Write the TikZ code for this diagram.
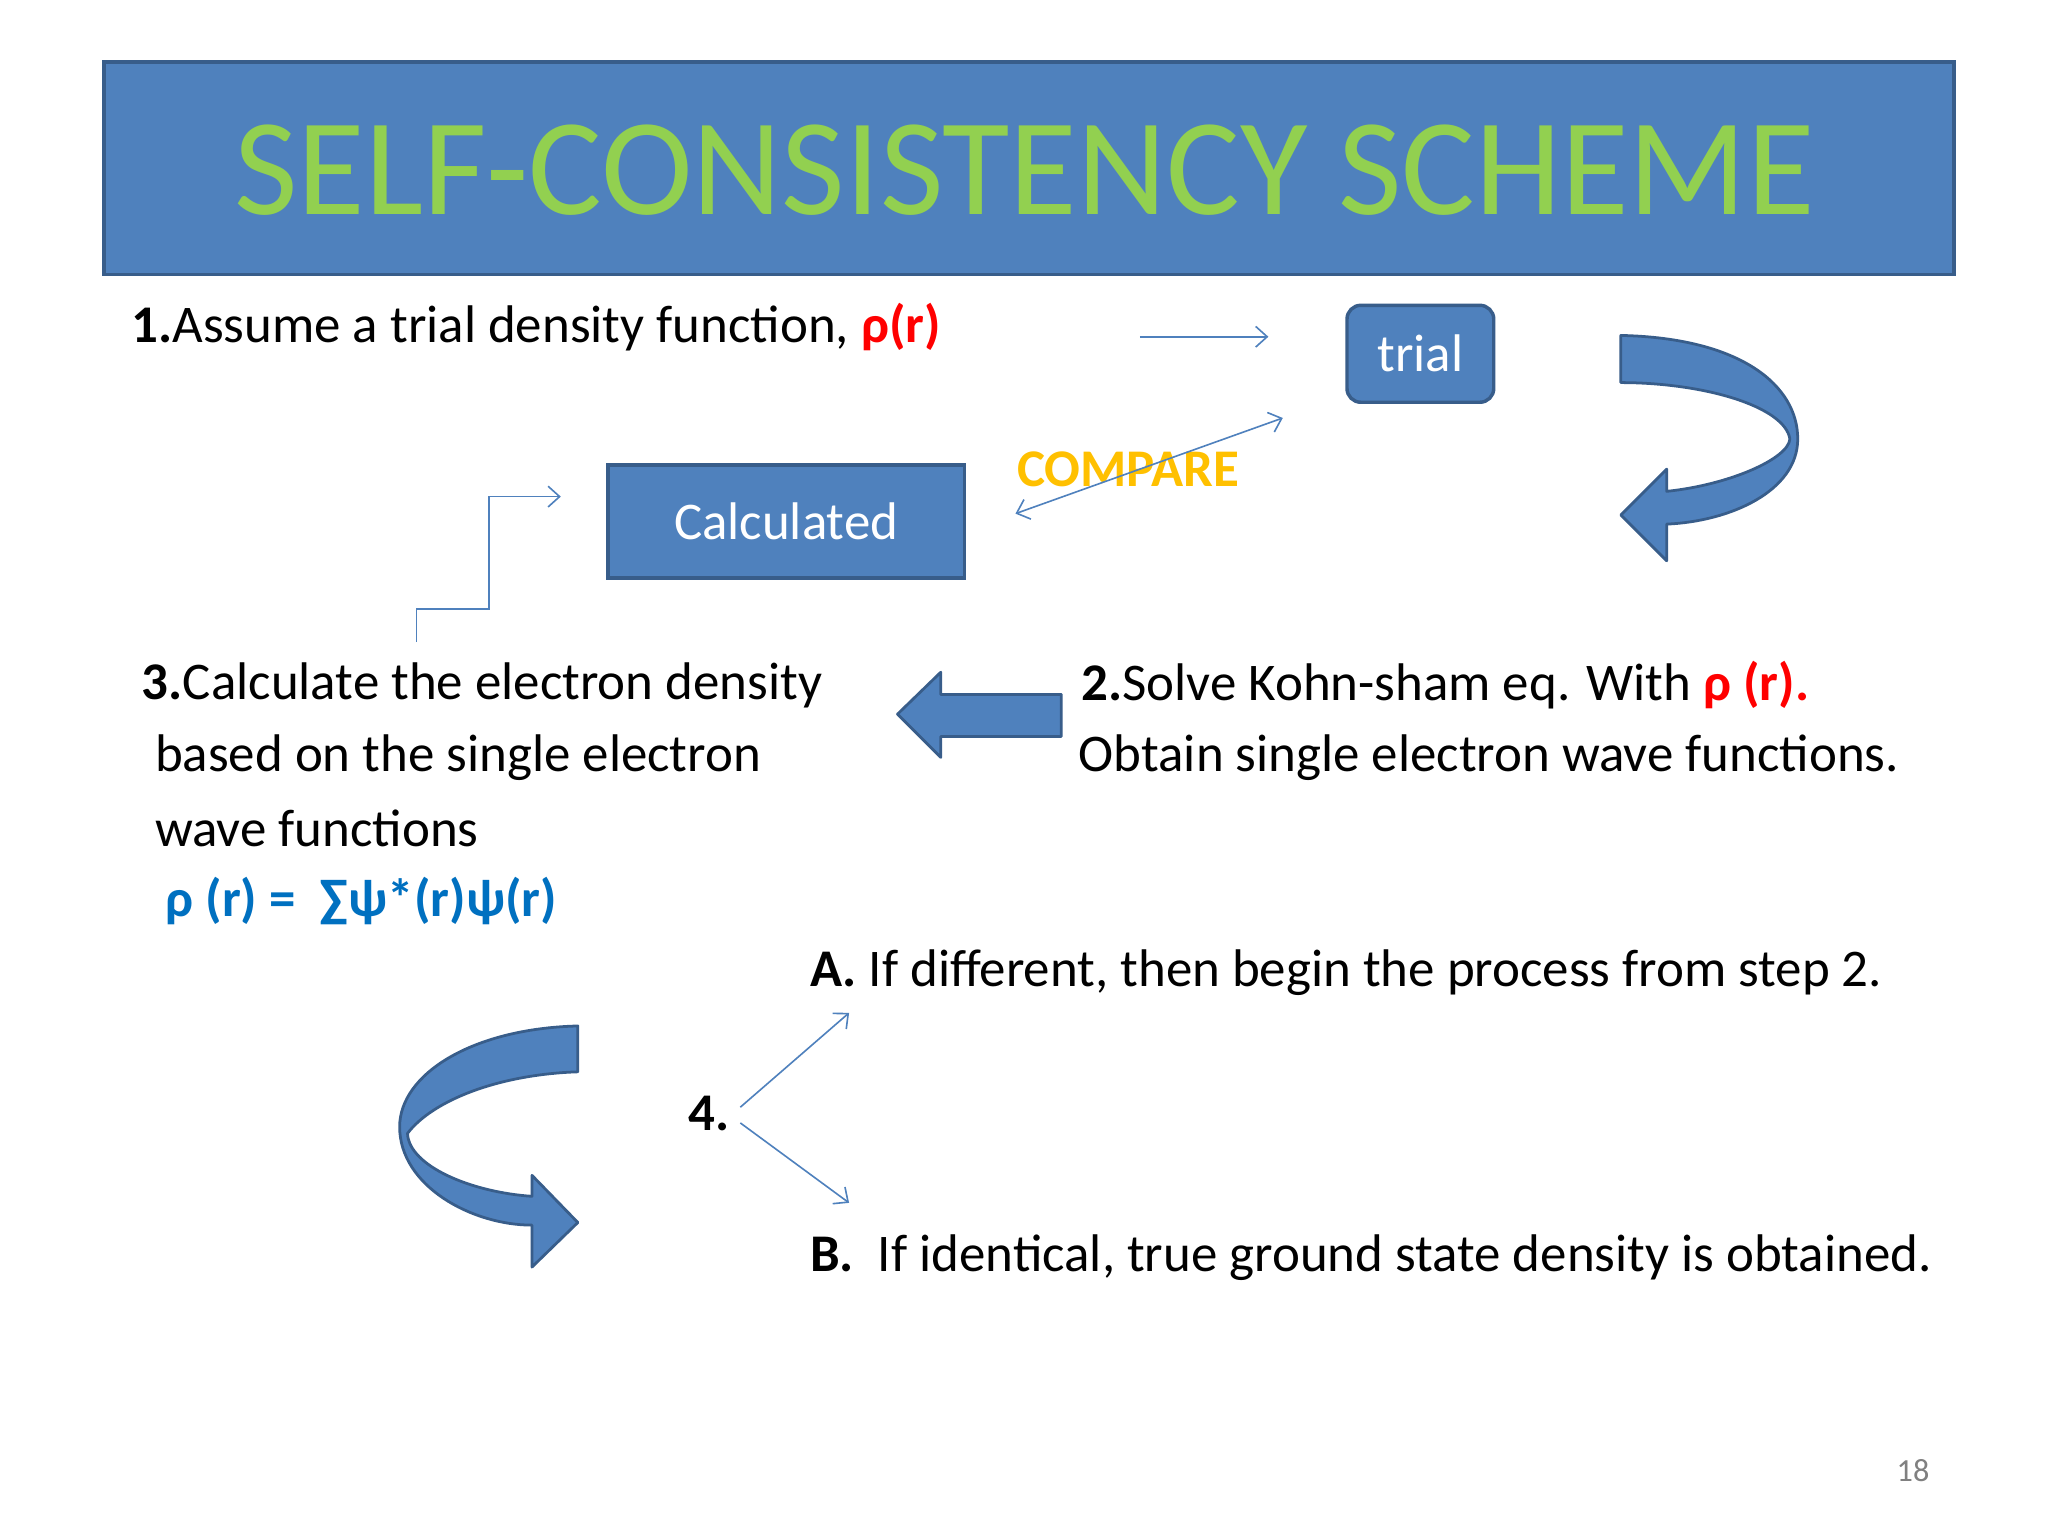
\documentclass[tikz,border=0pt]{standalone}
\usepackage{fontspec}
\setmainfont{Carlito}
\usetikzlibrary{arrows.meta}
\definecolor{bl}{HTML}{4F81BD}
\definecolor{bd}{HTML}{385D8A}
\definecolor{tg}{HTML}{92D050}
\definecolor{rd}{HTML}{FF0000}
\definecolor{fb}{HTML}{0070C0}
\definecolor{yl}{HTML}{FFC000}
\tikzset{txt/.style={anchor=west,inner sep=0,font=\fontsize{23}{27}\selectfont},
thin/.style={draw=bl,line width=0.7pt,-{Straight Barb[length=5pt,width=9pt]}},
barrow/.style={fill=bl,draw=bd,line width=1.2pt,line join=round}}
\begin{document}
\begin{tikzpicture}[x=0.02cm,y=-0.02cm]
\useasboundingbox (0,0) rectangle (1563,1172);
\fill[white] (0,0) rectangle (1563,1172);
\node[fill=bl,draw=bd,line width=1.5pt,minimum width=1412*0.02cm,minimum height=162*0.02cm,anchor=north west,inner sep=0] (title) at (78,46) {};
\node[text=tg,font=\fontsize{60}{70}\selectfont] (tt) at (782,130) {SELF-CONSISTENCY SCHEME};
\node[txt] (s1) at (100,250) {\textbf{1.}Assume a trial density function, \textcolor{rd}{\textbf{ρ(r)}}};
\node[fill=bl,draw=bd,line width=1.5pt,rounded corners=6pt,minimum width=112*0.02cm,minimum height=74*0.02cm,text=white,font=\fontsize{23}{27}\selectfont] (trial) at (1084,270) {trial};
\node[fill=bl,draw=bd,line width=1.5pt,minimum width=272*0.02cm,minimum height=86*0.02cm,text=white,font=\fontsize{23}{27}\selectfont] (calc) at (600,398) {Calculated};
\node[text=yl,font=\bfseries\fontsize{23}{27}\selectfont] (cmp) at (861,358) {COMPARE};
\coordinate (a1) at (870,257); \coordinate (a2) at (968,257);
\draw[thin] (a1) -- (a2);
\coordinate (c1) at (775,392); \coordinate (c2) at (979,319);
\draw[draw=bl,line width=0.7pt,{Straight Barb[length=5pt,width=9pt]}-{Straight Barb[length=5pt,width=9pt]}] (c1) -- (c2);
\coordinate (e1) at (318,490); \coordinate (e2) at (428,379);
\draw[thin] (e1) -- (318,465) -- (373,465) -- (373,379) -- (e2);
\node[txt] (s3) at (108,523) {\textbf{3.}Calculate the electron density};
\node[txt] (s3b) at (118,578) {based on the single electron};
\node[txt] (s3c) at (118,632) {wave functions};
\node[txt,text=fb] (s3d) at (126,688) {\textbf{ρ (r) = \ ∑ψ*(r)ψ(r)}};
\node[txt] (s2) at (825,523) {\textbf{2.}Solve Kohn-sham eq. With \textcolor{rd}{\textbf{ρ (r).}}};
\node[txt] (s2b) at (823,578) {Obtain single electron wave functions.};
\node[txt] (sA) at (618,742) {\textbf{A.} If different, then begin the process from step 2.};
\node[txt] (sB) at (618,960) {\textbf{B.} \ If identical, true ground state density is obtained.};
\node[txt] (s4) at (525,850) {\textbf{4.}};
\coordinate (f0) at (565,845); \coordinate (fA) at (648,773);
\coordinate (g0) at (565,857); \coordinate (gB) at (648,918);
\draw[thin] (f0) -- (fA); \draw[thin] (g0) -- (gB);
\node[text=gray,font=\fontsize{14}{16}\selectfont] (pg) at (1460,1122) {18};
% middle left arrow
\draw[barrow] (810,530) -- (718,530) -- (718,513) -- (685,545) -- (718,578) -- (718,562) -- (810,562) -- cycle;
% top right curved arrow
\draw[barrow] (1237,256) .. controls (1330,258) and (1372,295) .. (1372,335)
 .. controls (1372,375) and (1320,398) .. (1272,400) -- (1272,428) -- (1237,393) -- (1272,358) -- (1272,375)
 .. controls (1320,370) and (1365,350) .. (1366,335)
 .. controls (1362,310) and (1300,292) .. (1237,292) -- cycle;
% bottom left curved arrow
\draw[barrow] (441,783) .. controls (360,785) and (305,820) .. (305,860)
 .. controls (305,905) and (360,935) .. (406,935) -- (406,967) -- (441,933) -- (406,897) -- (406,913)
 .. controls (360,910) and (312,890) .. (311,865)
 .. controls (330,840) and (380,820) .. (441,818) -- cycle;
\end{tikzpicture}
\end{document}
